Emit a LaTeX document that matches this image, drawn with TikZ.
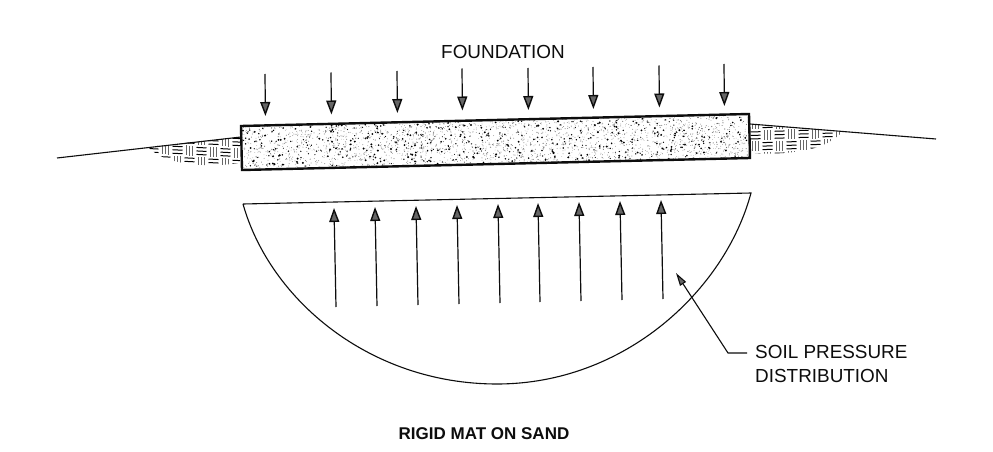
\documentclass[tikz,border=0pt]{standalone}
\usepackage{fontspec}
\setmainfont{Liberation Sans}
\usetikzlibrary{arrows.meta}
\definecolor{ink}{gray}{0.05}
\tikzset{
  x=1pt,y=-1pt,
  label text/.style={font=\fontsize{18.9}{24}\selectfont,text=ink,inner sep=0pt,anchor=west,align=left},
  thin line/.style={draw=ink,line width=1.1pt},
  slab line/.style={draw=ink,line width=2.4pt,line join=miter},
  load/.style={draw=ink,line width=1.2pt,-{Triangle[length=14pt,width=10pt,fill=black!60,line width=1.4pt]}},
  hatch/.style={draw=black!60,line width=0.9pt},
  hatch dark/.style={draw=black,line width=1pt},
}
\newcommand{\weavecell}[2]{%
  \pgfmathsetmacro{\cellx}{#1*12}\pgfmathsetmacro{\celly}{#2*11}
  \pgfmathtruncatemacro{\cellkind}{mod(#1+#2+200,2)}
  \ifnum\cellkind=0
    \foreach \k in {2,5,8}{\draw[hatch] (\cellx+\k,\celly+0.5) -- (\cellx+\k,\celly+10.5);}
  \else
    \foreach \k in {2,5.5,9}{\draw[hatch dark] (\cellx+0.5,\celly+\k) -- (\cellx+10.5,\celly+\k);}
  \fi
}
\begin{document}
\begin{tikzpicture}
\useasboundingbox (0,0) rectangle (993,452);
\fill[white] (0,0) rectangle (993,452);

% left fill
\begin{scope}
  \clip (148,147) -- (240,137) -- (240,163) .. controls (205,168) and (165,165) .. (148,147) -- cycle;
  \begin{scope}[shift={(148,132)},yslant=-0.05]
    \foreach \cc in {0,...,8}{\foreach \rr in {0,...,3}{\weavecell{\cc}{\rr}}}
  \end{scope}
\end{scope}
% right fill
\begin{scope}
  \clip (750,124) -- (842,132) .. controls (825,152) and (785,155) .. (750,153) -- cycle;
  \begin{scope}[shift={(750,119)},yslant=0.03]
    \foreach \cc in {0,...,8}{\foreach \rr in {0,...,3}{\weavecell{\cc}{\rr}}}
  \end{scope}
\end{scope}

% ground lines
\coordinate (gl0) at (57,158);
\coordinate (gl1) at (241,137);
\coordinate (gr0) at (750,124);
\coordinate (gr1) at (936,139);
\draw[thin line] (gl0) -- (gl1);
\draw[thin line] (gr0) -- (gr1);

% slab stipple
\pgfmathsetseed{4217}
\foreach \i in {1,...,2200}{
  \pgfmathsetmacro{\uu}{rnd}\pgfmathsetmacro{\vv}{rnd}
  \pgfmathsetmacro{\rad}{0.25+0.3*rnd}
  \fill[black!55] (242+507*\uu,{126+43*\vv-11*\uu}) circle[radius=\rad];
}
\foreach \i in {1,...,550}{
  \pgfmathsetmacro{\uu}{rnd}\pgfmathsetmacro{\vv}{rnd}
  \pgfmathsetmacro{\rad}{0.5+0.6*rnd}
  \fill[black] (243+504*\uu,{127+41*\vv-11*\uu}) circle[radius=\rad];
}
\coordinate (s1) at (241,126);
\coordinate (s2) at (749,114);
\coordinate (s3) at (750,158);
\coordinate (s4) at (242,170);
\draw[slab line] (s1) -- (s2) -- (s3) -- (s4) -- cycle;

% loads on the slab
\foreach \n/\x/\t in {1/265/74,2/331/72.5,3/397/71,4/462/68.5,5/528/68,6/593/67,7/659/65.5,8/724/64}{
  \coordinate (da\n) at (\x,\t);
  \coordinate (db\n) at (\x+0.4,\t+42);
  \draw[load] (da\n) -- (db\n);
}

% pressure bulb
\coordinate (b1) at (243,204);
\coordinate (b2) at (751,193);
\coordinate (b3) at (497,384);
\draw[thin line] (b1) -- (b2) .. controls (725,290) and (625,384) .. (b3) .. controls (370,384) and (270,300) .. (b1);

% soil reaction
\foreach \n/\x/\t/\e in {1/334/208/307,2/375/207/306,3/416/206/305,4/457/205/304,5/498/204/303,6/538/203/302,7/579/202/301,8/620/201/300,9/661/200/299}{
  \coordinate (ua\n) at (\x+2,\e);
  \coordinate (ub\n) at (\x,\t);
  \draw[load] (ua\n) -- (ub\n);
}

% labels
\node[label text,anchor=center] (foundation) at (503,52) {FOUNDATION};
\node[label text] (soil) at (755,363.5) {SOIL PRESSURE\\DISTRIBUTION};
\node[label text,anchor=center,font=\fontsize{17}{22}\selectfont\bfseries] (rigid) at (484,434) {RIGID MAT ON SAND};

% leader
\coordinate (lt) at (676,273);
\coordinate (lm) at (728,353);
\coordinate (le) at (747,353);
\draw[thin line,-{Triangle[length=13pt,width=7pt,fill=black!60,line width=1.1pt]}] (le) -- (lm) -- (lt);
\end{tikzpicture}
\end{document}
